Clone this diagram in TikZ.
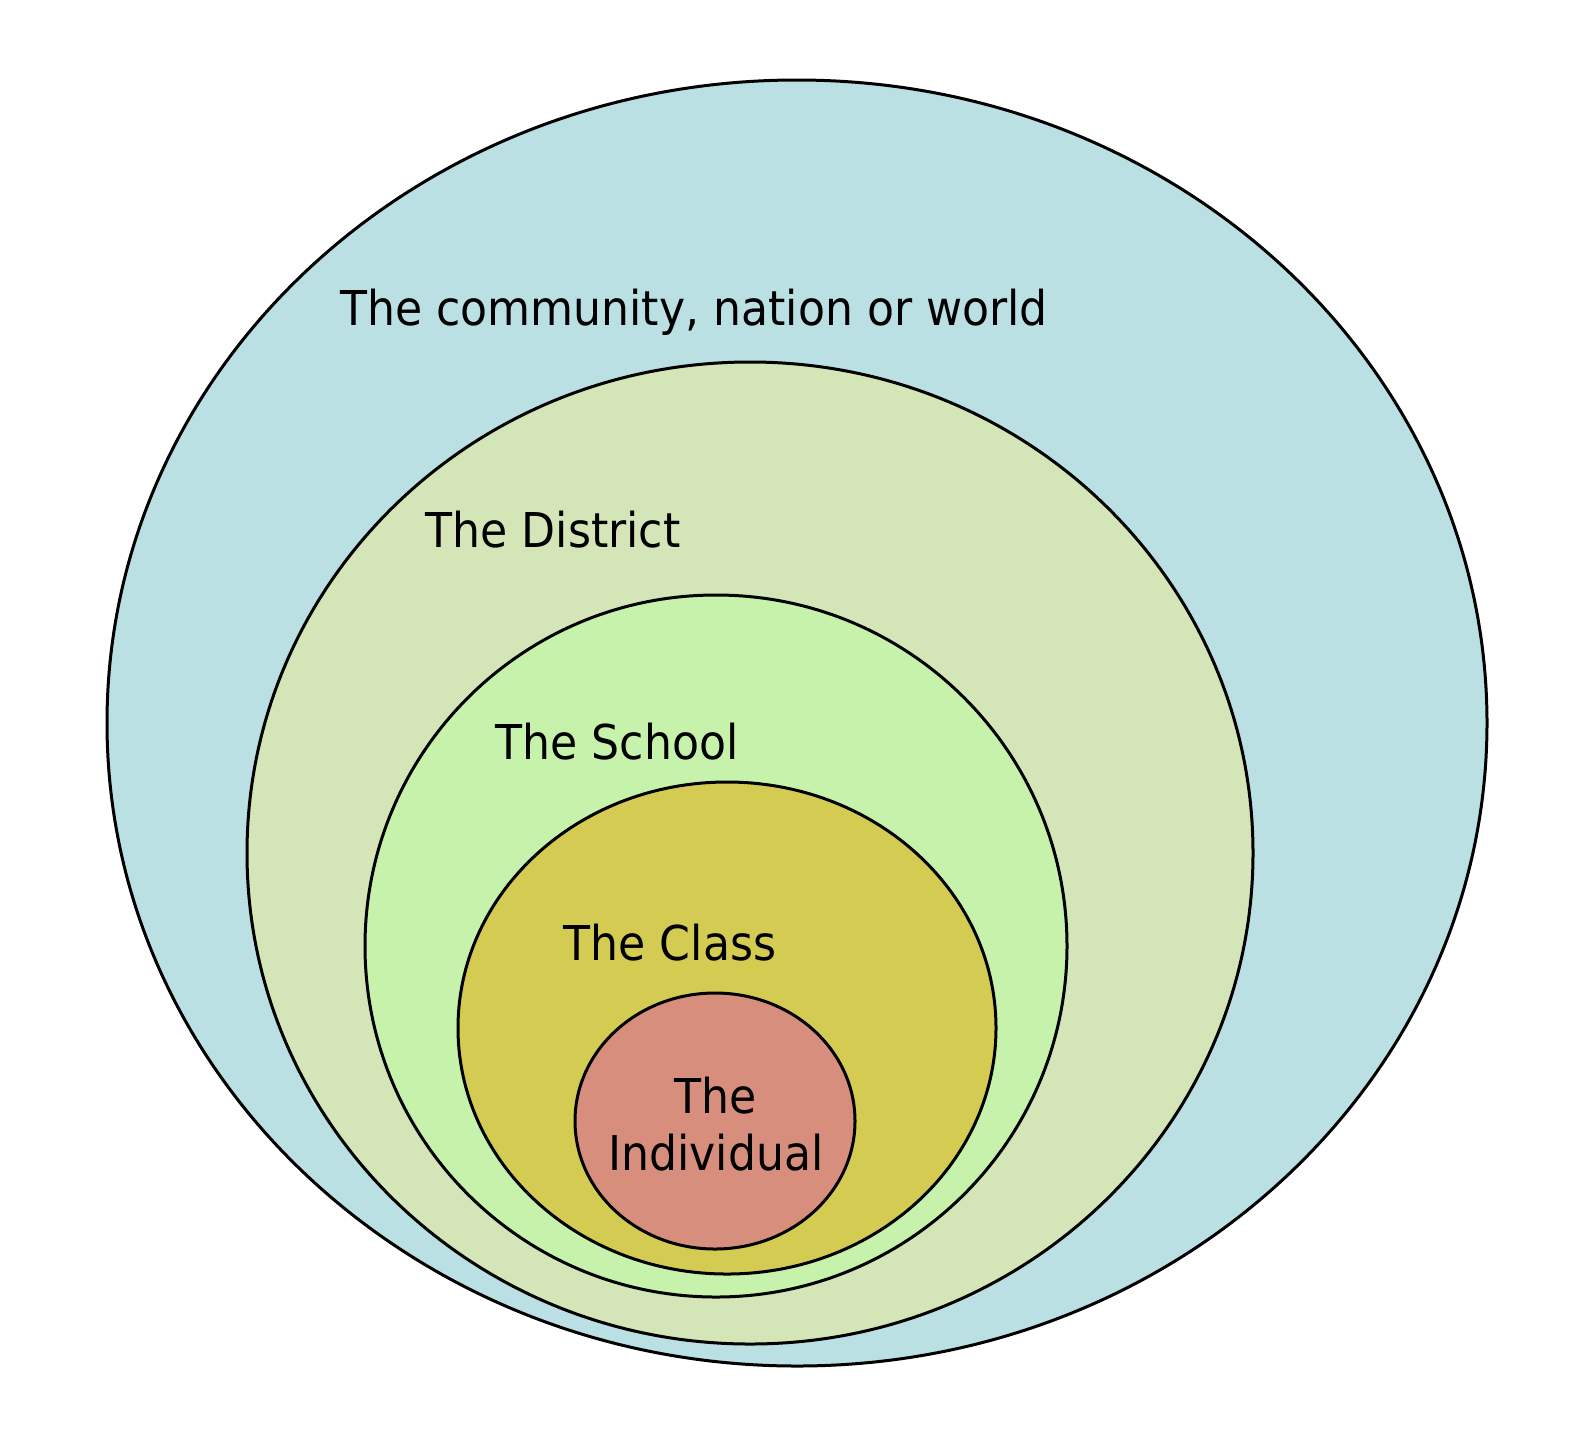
\documentclass[tikz,border=0pt]{standalone}
\usepackage{fontspec}
\setmainfont{DejaVu Sans}
\usetikzlibrary{positioning}
\usepackage{xcolor}

\definecolor{worldblue}{RGB}{186,224,227}
\definecolor{districtkhaki}{RGB}{212,229,184}
\definecolor{schoolgreen}{RGB}{198,242,171}
\definecolor{classolive}{RGB}{211,203,82}
\definecolor{indivsalmon}{RGB}{216,142,124}

\tikzset{
  ring/.style={draw=black, line width=1.5pt},
  lbl/.style={font=\fontsize{24}{28.5}\selectfont, xscale=0.92, inner sep=0pt, align=center}
}

\begin{document}
\begin{tikzpicture}[x=0.5pt, y=-0.5pt]
\useasboundingbox[fill=white] (0,0) rectangle (1583,1436);

%%%%%%%%%%%%    nested levels   %%%%%%%%%%%%
\draw[ring, fill=worldblue] (797,723) ellipse [x radius=690, y radius=643];
\draw[ring, fill=districtkhaki] (750,853) ellipse [x radius=503, y radius=491];
\draw[ring, fill=schoolgreen] (716,946) ellipse [x radius=351, y radius=351];
\draw[ring, fill=classolive] (727,1028) ellipse [x radius=269, y radius=246];
\draw[ring, fill=indivsalmon] (715,1121) ellipse [x radius=140, y radius=128];

% labeling
\node[lbl] (world) at (694,312) {The community, nation or world};
\node[lbl] (district) at (553,530) {The District};
\node[lbl] (school) at (617,742) {The School};
\node[lbl] (class) at (670,943) {The Class};
\node[lbl] (indiv) at (716,1124) {The\\Individual};

\end{tikzpicture}
\end{document}
